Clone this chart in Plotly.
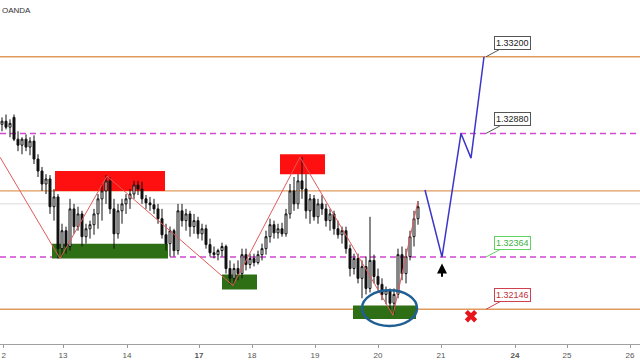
import plotly.graph_objects as go

# ---- data ----
bar_index = list(range(105))
opens = [1.32918, 1.32931, 1.32906, 1.32947, 1.32856, 1.32831, 1.32856, 1.32823, 1.32848, 1.32773,
         1.32723, 1.32669, 1.32690, 1.32574, 1.32615, 1.32399, 1.32474, 1.32408, 1.32565, 1.32491,
         1.32544, 1.32449, 1.32482, 1.32499, 1.32544, 1.32607, 1.32640, 1.32682, 1.32565, 1.32461,
         1.32557, 1.32586, 1.32607, 1.32627, 1.32665, 1.32648, 1.32607, 1.32590, 1.32582, 1.32565,
         1.32524, 1.32457, 1.32420, 1.32474, 1.32391, 1.32557, 1.32516, 1.32544, 1.32491, 1.32516,
         1.32461, 1.32482, 1.32416, 1.32382, 1.32374, 1.32391, 1.32408, 1.32316, 1.32275, 1.32316,
         1.32295, 1.32374, 1.32333, 1.32358, 1.32341, 1.32374, 1.32399, 1.32449, 1.32499, 1.32465,
         1.32482, 1.32461, 1.32544, 1.32640, 1.32586, 1.32682, 1.32648, 1.32557, 1.32607, 1.32532,
         1.32586, 1.32565, 1.32516, 1.32544, 1.32482, 1.32457, 1.32474, 1.32399, 1.32316, 1.32358,
         1.32275, 1.32324, 1.32233, 1.32350, 1.32283, 1.32250, 1.32208, 1.32225, 1.32171, 1.32208,
         1.32374, 1.32295, 1.32366, 1.32449, 1.32524]
highs = [1.32947, 1.32959, 1.32939, 1.32959, 1.32889, 1.32864, 1.32876, 1.32864, 1.32872, 1.32793,
         1.32740, 1.32710, 1.32706, 1.32648, 1.32627, 1.32503, 1.32491, 1.32607, 1.32586, 1.32574,
         1.32557, 1.32503, 1.32516, 1.32565, 1.32627, 1.32669, 1.32706, 1.32698, 1.32607, 1.32586,
         1.32607, 1.32627, 1.32648, 1.32682, 1.32682, 1.32678, 1.32623, 1.32615, 1.32607, 1.32586,
         1.32565, 1.32503, 1.32491, 1.32482, 1.32586, 1.32586, 1.32565, 1.32557, 1.32544, 1.32532,
         1.32503, 1.32499, 1.32441, 1.32408, 1.32399, 1.32424, 1.32416, 1.32350, 1.32337, 1.32350,
         1.32399, 1.32399, 1.32378, 1.32378, 1.32391, 1.32420, 1.32474, 1.32524, 1.32516, 1.32503,
         1.32507, 1.32565, 1.32669, 1.32698, 1.32710, 1.32781, 1.32710, 1.32627, 1.32623, 1.32607,
         1.32623, 1.32586, 1.32565, 1.32557, 1.32516, 1.32491, 1.32491, 1.32416, 1.32378, 1.32378,
         1.32350, 1.32366, 1.32532, 1.32374, 1.32316, 1.32275, 1.32241, 1.32233, 1.32233, 1.32399,
         1.32408, 1.32399, 1.32474, 1.32557, 1.32598]
lows = [1.32889, 1.32897, 1.32864, 1.32848, 1.32806, 1.32793, 1.32806, 1.32789, 1.32752, 1.32698,
        1.32640, 1.32627, 1.32544, 1.32516, 1.32358, 1.32366, 1.32378, 1.32391, 1.32461, 1.32474,
        1.32408, 1.32420, 1.32441, 1.32457, 1.32482, 1.32516, 1.32586, 1.32544, 1.32399, 1.32441,
        1.32503, 1.32544, 1.32565, 1.32607, 1.32623, 1.32586, 1.32565, 1.32557, 1.32544, 1.32503,
        1.32441, 1.32391, 1.32366, 1.32366, 1.32374, 1.32491, 1.32474, 1.32449, 1.32461, 1.32441,
        1.32433, 1.32399, 1.32366, 1.32358, 1.32350, 1.32366, 1.32295, 1.32250, 1.32250, 1.32267,
        1.32275, 1.32308, 1.32316, 1.32325, 1.32333, 1.32350, 1.32374, 1.32424, 1.32441, 1.32441,
        1.32449, 1.32449, 1.32524, 1.32557, 1.32565, 1.32607, 1.32524, 1.32503, 1.32516, 1.32503,
        1.32540, 1.32491, 1.32474, 1.32457, 1.32441, 1.32420, 1.32378, 1.32283, 1.32291, 1.32254,
        1.32192, 1.32208, 1.32216, 1.32254, 1.32225, 1.32184, 1.32167, 1.32142, 1.32125, 1.32192,
        1.32267, 1.32254, 1.32350, 1.32408, 1.32499]
closes = [1.32931, 1.32906, 1.32922, 1.32856, 1.32831, 1.32856, 1.32823, 1.32848, 1.32773, 1.32723,
          1.32669, 1.32690, 1.32574, 1.32615, 1.32399, 1.32474, 1.32408, 1.32565, 1.32491, 1.32544,
          1.32449, 1.32482, 1.32499, 1.32544, 1.32607, 1.32640, 1.32682, 1.32565, 1.32461, 1.32557,
          1.32586, 1.32607, 1.32627, 1.32665, 1.32648, 1.32607, 1.32590, 1.32582, 1.32565, 1.32524,
          1.32457, 1.32420, 1.32474, 1.32391, 1.32557, 1.32516, 1.32544, 1.32491, 1.32516, 1.32461,
          1.32482, 1.32416, 1.32382, 1.32374, 1.32391, 1.32408, 1.32316, 1.32275, 1.32316, 1.32295,
          1.32374, 1.32333, 1.32358, 1.32341, 1.32374, 1.32399, 1.32449, 1.32499, 1.32465, 1.32482,
          1.32461, 1.32544, 1.32640, 1.32586, 1.32682, 1.32648, 1.32557, 1.32607, 1.32532, 1.32586,
          1.32565, 1.32516, 1.32544, 1.32482, 1.32457, 1.32474, 1.32399, 1.32316, 1.32358, 1.32275,
          1.32324, 1.32233, 1.32350, 1.32283, 1.32250, 1.32208, 1.32225, 1.32171, 1.32208, 1.32374,
          1.32295, 1.32366, 1.32449, 1.32524, 1.32574]

tick_positions = [0.4, 15.25, 31.25, 49.25, 62.5, 78.25, 94, 109.75, 128.25, 141.25, 157]
tick_labels = ["2", "13", "14", "<b>17</b>", "18", "19", "20", "21", "<b>24</b>", "25", "26"]

# horizontal levels
level_target = 1.33200
level_mid = 1.32880
level_resist = 1.32640
level_last = 1.32586
level_entry = 1.32364
level_stop = 1.32146

# zigzag swing points (bar index, price)
zig_x = [-0.5, 14.5, 26.25, 57.75, 74.5, 97.75, 104]
zig_y = [1.32781, 1.32358, 1.32702, 1.32245, 1.32781, 1.32121, 1.32598]

# projected path
proj_x = [105.75, 110, 114.75, 117.25, 120.5]
proj_y = [1.32644, 1.32364, 1.32880, 1.32777, 1.33200]

# zones (x0, x1, y0, y1)
supply_zones = [(13.25, 40.75, 1.32640, 1.32723), (69.5, 80.75, 1.32710, 1.32793)]
demand_zones = [(12.5, 41.5, 1.32358, 1.32420), (55, 63.75, 1.32229, 1.32291), (87.75, 103.5, 1.32105, 1.32162)]
circle_zone = (90, 103.75, 1.32076, 1.32225)

fig = go.Figure()

fig.add_trace(go.Candlestick(
    x=bar_index, open=opens, high=highs, low=lows, close=closes,
    increasing=dict(line=dict(color="#111111", width=1), fillcolor="#ffffff"),
    decreasing=dict(line=dict(color="#111111", width=1), fillcolor="#111111"),
    whiskerwidth=0, showlegend=False, hoverinfo="skip"))

fig.add_trace(go.Scatter(x=zig_x, y=zig_y, mode="lines",
                         line=dict(color="#e05a5a", width=1), showlegend=False, hoverinfo="skip"))
fig.add_trace(go.Scatter(x=proj_x, y=proj_y, mode="lines",
                         line=dict(color="#3b36c8", width=1.5), showlegend=False, hoverinfo="skip"))
fig.add_trace(go.Scatter(x=[117.25], y=[1.32117], mode="markers",
                         marker=dict(symbol="x", size=11, color="#e8141c", line=dict(width=0)),
                         showlegend=False, hoverinfo="skip"))

shapes = []
orange = "#e09a5c"
for lv in (level_target, level_resist, level_stop):
    shapes.append(dict(type="line", xref="paper", x0=0, x1=1, yref="y", y0=lv, y1=lv,
                       line=dict(color=orange, width=1.3), layer="below"))
shapes.append(dict(type="line", xref="paper", x0=0, x1=1, yref="y", y0=level_last, y1=level_last,
                   line=dict(color="#dcdcdc", width=1), layer="below"))
for lv in (level_mid, level_entry):
    shapes.append(dict(type="line", xref="paper", x0=0, x1=1, yref="y", y0=lv, y1=lv,
                       line=dict(color="#d048d0", width=1.5, dash="6px,4px"), layer="below"))
for x0, x1, y0, y1 in supply_zones:
    shapes.append(dict(type="rect", x0=x0, x1=x1, y0=y0, y1=y1, fillcolor="#ff1010",
                       line=dict(width=0), layer="below"))
for x0, x1, y0, y1 in demand_zones:
    shapes.append(dict(type="rect", x0=x0, x1=x1, y0=y0, y1=y1, fillcolor="#2e6e14",
                       line=dict(width=0), layer="below"))
cx0, cx1, cy0, cy1 = circle_zone
shapes.append(dict(type="circle", x0=cx0, x1=cx1, y0=cy0, y1=cy1,
                   line=dict(color="#1f5f94", width=2.5)))

annotations = [
    dict(text="OANDA", xref="paper", yref="paper", x=0, y=1, xanchor="left", yanchor="top",
         yshift=-4, showarrow=False, font=dict(family="Liberation Sans", size=8, color="#333333")),
    dict(x=110, y=1.32337, ax=110, ay=1.32275, axref="x", ayref="y", xref="x", yref="y",
         showarrow=True, arrowhead=2, arrowsize=1, arrowwidth=2, arrowcolor="#000000", text=""),
]
labels = [("1.33200", level_target, "#222222", "#555555"),
          ("1.32880", level_mid, "#222222", "#555555"),
          ("1.32364", level_entry, "#3cb043", "#5fd35f"),
          ("1.32146", level_stop, "#c0303a", "#d04050")]
for txt, lv, fc, bc in labels:
    annotations.append(dict(x=121, y=lv, xref="x", yref="y", text=txt, showarrow=True,
                            ax=26, ay=-14, arrowhead=0, arrowwidth=1, arrowcolor=bc,
                            font=dict(family="Liberation Sans", size=9, color=fc),
                            bgcolor="#ffffff", bordercolor=bc, borderwidth=1, borderpad=1))

fig.update_layout(
    width=640, height=360,
    margin=dict(l=0, r=0, t=0, b=14),
    paper_bgcolor="#ffffff", plot_bgcolor="#ffffff",
    shapes=shapes, annotations=annotations,
    showlegend=False,
    xaxis=dict(range=[-0.5, 159.5], rangeslider=dict(visible=False), showgrid=False, zeroline=False,
               tickmode="array", tickvals=tick_positions, ticktext=tick_labels,
               ticks="outside", ticklen=3, tickcolor="#999999",
               showline=True, linecolor="#a0a0a0", linewidth=1,
               tickfont=dict(family="Liberation Sans", size=8, color="#555555")),
    yaxis=dict(range=[1.32001, 1.33437], showgrid=False, zeroline=False, showticklabels=False,
               showline=False, ticks=""),
)

fig.write_html("out.html", config={"displayModeBar": False},
               post_script="document.body.style.margin='0';document.body.style.overflow='hidden';")
